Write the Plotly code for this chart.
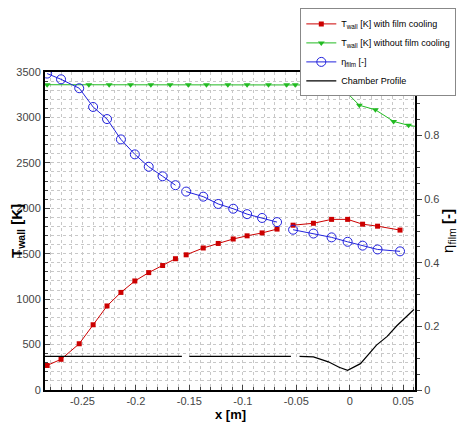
import plotly.graph_objects as go

# wall temperature with film cooling [K]
x_red = [-0.283, -0.27, -0.253, -0.24, -0.227, -0.214, -0.201, -0.188, -0.175, -0.163, None,
         -0.153, -0.137, -0.123, -0.109, -0.096, -0.082, -0.068, None,
         -0.053, -0.034, -0.017, -0.002, 0.012, 0.026, 0.047]
t_red = [270, 338, 509, 718, 925, 1074, 1200, 1292, 1370, 1445, None,
         1488, 1563, 1613, 1662, 1697, 1729, 1771, None,
         1814, 1835, 1878, 1878, 1825, 1803, 1760]

# wall temperature without film cooling [K]
x_green = [-0.283, -0.244, -0.225, -0.205, -0.186, -0.168, -0.151, -0.134, -0.114, -0.096,
           -0.076, -0.059, -0.051, -0.034, -0.017, -0.003, 0.009, 0.024, 0.041, 0.055, 0.068]
t_green = [3360, 3360, 3360, 3360, 3360, 3360, 3360, 3360, 3360, 3360,
           3360, 3360, 3360, 3360, 3357, 3276, 3134, 3084, 2956, 2913, 2890]

# film effectiveness [-]
x_blue = [-0.283, -0.27, -0.253, -0.24, -0.227, -0.214, -0.201, -0.188, -0.175, -0.163, None,
          -0.153, -0.137, -0.123, -0.109, -0.096, -0.082, -0.068, None,
          -0.053, -0.034, -0.017, -0.002, 0.012, 0.026, 0.047]
eta_blue = [0.995, 0.977, 0.949, 0.890, 0.852, 0.788, 0.741, 0.702, 0.672, 0.644, None,
            0.624, 0.608, 0.585, 0.570, 0.553, 0.541, 0.528, None,
            0.504, 0.492, 0.480, 0.466, 0.454, 0.442, 0.436]

# chamber profile (scaled)
x_prof = [-0.285, -0.157, None, -0.15, -0.055, None, -0.047, -0.034, -0.02, -0.01, -0.002,
          0.01, 0.025, 0.035, 0.044, 0.052, 0.06]
t_prof = [370, 370, None, 370, 370, None, 370, 365, 310, 250, 217,
          290, 494, 590, 707, 800, 886]

x_ticks = [-0.25, -0.2, -0.15, -0.1, -0.05, 0, 0.05]
x_labels = ['-0.25', '-0.2', '-0.15', '-0.1', '-0.05', '0', '0.05']
eta_ticks = [0, 0.2, 0.4, 0.6, 0.8, 1]
eta_labels = ['0', '0.2', '0.4', '0.6', '0.8', '1']

fig = go.Figure()
fig.add_trace(go.Scatter(x=x_red, y=t_red, mode='lines+markers', name='T<sub>wall</sub> [K] with film cooling',
                         line=dict(color='#cc0000', width=1), marker=dict(symbol='square', size=5, color='#cc0000')))
fig.add_trace(go.Scatter(x=x_green, y=t_green, mode='lines+markers', name='T<sub>wall</sub> [K] without film cooling',
                         line=dict(color='#22bb22', width=1), marker=dict(symbol='triangle-down', size=6, color='#22bb22')))
fig.add_trace(go.Scatter(x=x_blue, y=eta_blue, yaxis='y2', mode='lines+markers', name='η<sub>film</sub> [-]',
                         line=dict(color='#2222dd', width=1),
                         marker=dict(symbol='circle-open', size=9, color='#2222dd', line=dict(width=1))))
fig.add_trace(go.Scatter(x=x_prof, y=t_prof, mode='lines', name='Chamber Profile',
                         line=dict(color='black', width=1.2)))

grid = dict(showgrid=True, gridcolor='#c8c8c8', griddash='dot', gridwidth=1)
fig.update_layout(
    width=474, height=422, margin=dict(l=37, r=67, t=64, b=40, autoexpand=False),
    paper_bgcolor='white', plot_bgcolor='white',
    font=dict(family='Liberation Sans, Arial', size=11, color='#444'),
    xaxis=dict(range=[-0.285, 0.061], tickvals=x_ticks, ticktext=x_labels, ticks='inside', ticklen=5,
               showline=True, linecolor='black', linewidth=2, mirror=True, zeroline=False, tickangle=0,
               automargin=False,
               minor=dict(dtick=0.01, ticks='inside', ticklen=3, **grid), **grid),
    yaxis=dict(range=[0, 3500], dtick=500, ticks='inside', ticklen=5, automargin=False,
               showline=True, linecolor='black', linewidth=2, zeroline=False,
               title=dict(text='<b>T<sub>wall</sub> [K]</b>', standoff=2, font=dict(size=15, color='black')),
               minor=dict(dtick=100, ticks='inside', ticklen=3, **grid), **grid),
    yaxis2=dict(range=[0, 1], tickvals=eta_ticks, ticktext=eta_labels, overlaying='y', side='right',
                ticks='outside', ticklen=5, automargin=False,
                showline=True, linecolor='black', linewidth=2, showgrid=False, zeroline=False,
                title=dict(text='η<sub>film</sub> <b>[-]</b>', standoff=4, font=dict(size=15, color='black')),
                minor=dict(dtick=0.05, ticks='outside', ticklen=3)),
    legend=dict(x=0.69, y=1.2, xanchor='left', yanchor='top', bgcolor='white',
                bordercolor='#888', borderwidth=1, font=dict(size=9, color='black'),
                tracegroupgap=0, itemwidth=30),
    annotations=[dict(text='<b>x [m]</b>', x=0.5, y=0, xref='paper', yref='paper', yshift=-15,
                      showarrow=False, yanchor='top', font=dict(size=13, color='black'))],
)
fig.write_html("out.html")
